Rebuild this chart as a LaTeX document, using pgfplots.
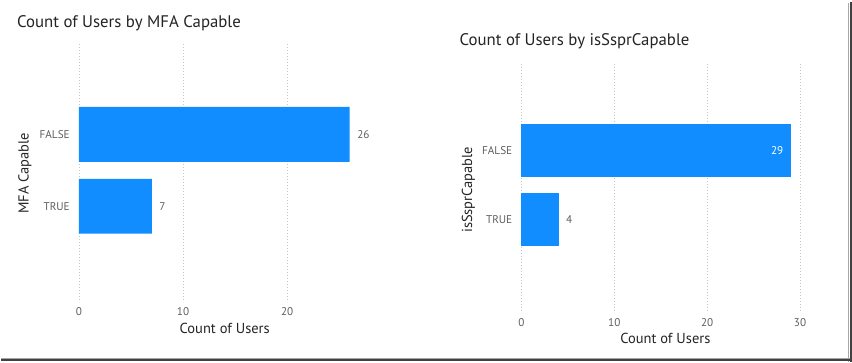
\documentclass[border=0pt]{standalone}
\usepackage{pgfplots}
\pgfplotsset{compat=1.18}
\usepackage{fontspec}
\setmainfont{PT Sans}
\definecolor{pbblue}{HTML}{118DFF}
\definecolor{titlec}{HTML}{252423}
\definecolor{tickc}{HTML}{605E5C}
\definecolor{gridc}{HTML}{C8C6C4}
\pgfplotsset{
  pbi/.style={
    xbar, scale only axis, anchor=south west,
    y dir=reverse,
    axis line style={draw=none},
    major tick length=0pt,
    xmajorgrids, ymajorgrids=false,
    major grid style={gridc, line width=0.8pt, dash pattern=on 0.8pt off 2.2pt},
    ytick={0,1}, yticklabels={FALSE,TRUE},
    /pgf/number format/assume math mode=true,
    tick label style={font=\fontsize{11.2}{13}\selectfont, text=tickc},
    xticklabel style={anchor=center, yshift=-10pt},
    yticklabel style={anchor=east, inner sep=0pt, xshift=-9pt},
    label style={font=\fontsize{14.5}{17}\selectfont, text=titlec},
    xlabel style={at={(axis description cs:0.5,0)}, anchor=center},
    bar shift=0pt,
    clip=false,
    nodes near coords,
    nodes near coords style={font=\fontsize{11.2}{13}\selectfont, text=tickc},
  }
}
\begin{document}
\begin{tikzpicture}[x=1pt,y=1pt]
\fill[white] (0,0) rectangle (852,362);
% shadow border
\draw[line width=1pt, black!35] (848.5,0) -- (848.5,359);
\draw[line width=2pt, black!75] (850.5,0) -- (850.5,360);
\draw[line width=1pt, black!35] (0,3.5) -- (850,3.5);
\draw[line width=2pt, black!75] (0,1.5) -- (851,1.5);

% left chart
\begin{axis}[pbi,
  at={(78pt,60pt)}, width=292pt, height=258pt,
  xmin=0, xmax=28, ymin=-1.257, ymax=2.326,
  xtick={0,10,20},
  bar width=55pt,
  xlabel={Count of Users},
  ylabel={MFA Capable},
  xlabel style={yshift=-27pt},
  ylabel style={at={(axis description cs:-0.185,0.498)}, anchor=center},
  every node near coord/.append style={anchor=west, xshift=4pt},
]
\addplot[fill=pbblue, draw=none] coordinates {(26,0) (7,1)};
\end{axis}

% right chart
\begin{axis}[pbi,
  at={(521pt,49pt)}, width=288.3pt, height=249pt,
  xmin=0, xmax=31, ymin=-1.245, ymax=2.338,
  xtick={0,10,20,30},
  bar width=53pt,
  xlabel={Count of Users},
  ylabel={isSsprCapable},
  xlabel style={yshift=-26pt},
  ylabel style={at={(axis description cs:-0.184,0.494)}, anchor=center},
]
\addplot[fill=pbblue, draw=none,
  every node near coord/.append style={anchor=east, xshift=-4pt, text=white}]
  coordinates {(29,0)};
\addplot[fill=pbblue, draw=none,
  every node near coord/.append style={anchor=west, xshift=4pt}]
  coordinates {(4,1)};
\end{axis}

\node[anchor=base west, inner sep=0pt, text=titlec, font=\fontsize{16.8}{20}\selectfont] at (16,334.5) {Count of Users by MFA Capable};
\node[anchor=base west, inner sep=0pt, text=titlec, font=\fontsize{16.8}{20}\selectfont] at (459,316) {Count of Users by isSsprCapable};
\end{tikzpicture}
\end{document}
